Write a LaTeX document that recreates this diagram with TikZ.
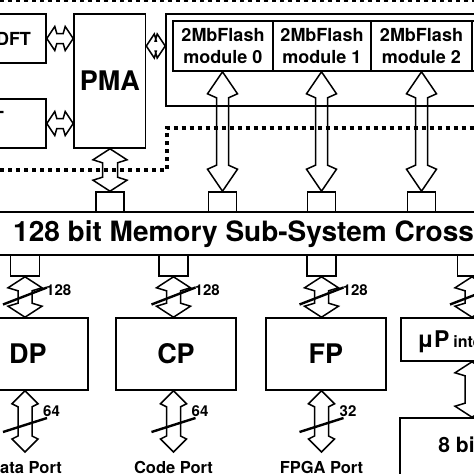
\documentclass[tikz,border=0pt]{standalone}
\usepackage{fontspec}
\setmainfont{TeX Gyre Heros}
\usetikzlibrary{calc}
\tikzset{
  box/.style={draw, line width=1.6pt, inner sep=0pt},
  arr/.style={draw, line width=1.5pt, line join=miter},
  slash/.style={draw, line width=2.4pt},
  dots/.style={draw, line width=4pt, dash pattern=on 4pt off 4pt},
  big/.style={font=\fontsize{27}{30}\selectfont\bfseries},
  mid/.style={font=\fontsize{18}{22}\selectfont\bfseries, align=center},
  lab/.style={font=\fontsize{15}{16}\selectfont\bfseries, inner sep=0pt},
  port/.style={font=\fontsize{16.5}{18}\selectfont\bfseries, inner sep=0pt},
}
\newcommand\dbv[6]{%
  \draw[arr] (#1) -- ++(#3,#5) -- ++({#4-#3},#6) -- ($(#2)+(#4,{-#5-#6})$) -- ++({#3-#4},#6) -- (#2)
    -- ++(-#3,-#5) -- ++({#3-#4},-#6) -- ($(#1)+(-#4,{#5+#6})$) -- ++({#4-#3},-#6) -- cycle;}
\newcommand\dbh[6]{%
  \draw[arr] (#1) -- ++(#5,-#3) -- ++(#6,{#3-#4}) -- ($(#2)+({-#5-#6},-#4)$) -- ++(#6,{#4-#3}) -- (#2)
    -- ++(-#5,#3) -- ++(-#6,{#4-#3}) -- ($(#1)+({#5+#6},#4)$) -- ++(-#6,{#3-#4}) -- cycle;}
\newcommand\slashat[1]{\draw[slash] ($(#1)+(-22,8.5)$) -- ($(#1)+(22,-8.5)$);}
\begin{document}
\begin{tikzpicture}[x=1pt,y=-1pt]
\useasboundingbox (0,0) rectangle (474,474);
\clip (0,0) rectangle (474,474);
% left boxes and PMA
\node[box, minimum width=65pt, minimum height=49pt] (dft) at (13.5,38.5) {};
\node[big, font=\fontsize{18}{20}\selectfont\bfseries] (dftt) at (dft) {DFT};
\node[box, minimum width=65pt, minimum height=49pt] (lb2) at (13.5,123.5) {};
\node[font=\fontsize{18}{20}\selectfont\bfseries, inner sep=0pt, anchor=base east] (lb2t) at (4,124) {T};
\node[box, big, minimum width=71.5pt, minimum height=134pt] (pma) at (109.75,81) {PMA};
% flash
\node[box, minimum width=434pt, minimum height=92pt] (flash) at (383,60) {};
\node[box, mid, minimum width=100pt, minimum height=50pt] (m0) at (223,46) {2MbFlash\\module 0};
\node[box, mid, minimum width=98pt, minimum height=50pt] (m1) at (322,46) {2MbFlash\\module 1};
\node[box, mid, minimum width=101pt, minimum height=50pt] (m2) at (421.5,46) {2MbFlash\\module 2};
\node[box, minimum width=98pt, minimum height=50pt] (m3) at (521,46) {};
% crossbar
\node[box, minimum width=620pt, minimum height=43pt] (xbar) at (290,233.5) {};
\node[font=\fontsize{28}{30}\selectfont\bfseries, inner sep=0pt, anchor=west] (xbart) at (13,234) {128 bit Memory Sub-System Crossbar};
% small boxes
\foreach \n/\x in {pmab/110, f0b/222.5, f1b/321.5, f2b/421.5}
  \node[box, minimum width=28pt, minimum height=20pt] (\n) at (\x,202) {};
\foreach \n/\x in {dpb/25, cpb/173.5, fpb/321.5, upb/472}
  \node[box, minimum width=29pt, minimum height=21pt] (\n) at (\x,265.5) {};
% blocks
\node[box, big, minimum width=120pt, minimum height=72pt] (dp) at (28,354) {DP};
\node[box, big, minimum width=120pt, minimum height=72pt] (cp) at (176,354) {CP};
\node[box, big, minimum width=120pt, minimum height=72pt] (fp) at (326,354) {FP};
\node[box, minimum width=120pt, minimum height=43pt, anchor=west] (up) at (400,339.5) {};
\node[inner sep=0pt, anchor=base west] (upt) at (417,347)
  {\fontsize{23}{24}\selectfont\bfseries μP\hspace{4pt}\fontsize{16}{18}\selectfont interface};
\node[box, minimum width=120pt, minimum height=102pt] (eb) at (460,469) {};
\node[font=\fontsize{21}{24}\selectfont\bfseries, inner sep=0pt] (ebt) at (460,445) {8 bit};
% horizontal arrows
\coordinate (a1) at (pma.west |- dft.east);
\dbh{dft.east}{a1}{12}{5}{8}{2}
\coordinate (a2) at (pma.west |- lb2.east);
\dbh{lb2.east}{a2}{12}{5}{8}{2}
\coordinate (a3) at (pma.east |- m0.west);
\coordinate (a4) at (flash.west |- m0.west);
\dbh{a3}{a4}{12}{5}{8}{2}
% vertical arrows up
\coordinate (b1) at (pmab.north |- pma.south);
\dbv{b1}{pmab.north}{17}{7.5}{11}{3}
\foreach \m/\b in {m0/f0b, m1/f1b, m2/f2b}{
  \coordinate (bt) at (\b.north |- \m.south);
  \dbv{bt}{\b.north}{15}{6}{22}{4}
}
% vertical arrows down
\foreach \s/\t/\w in {dpb/dp/128, cpb/cp/128, fpb/fp/128, upb/up/}{
  \coordinate (ct) at (\s.south |- \t.north);
  \dbv{\s.south}{ct}{17}{7}{11}{3}
  \coordinate (cm) at (\s.south |- 0,296);
  \slashat{cm}
  \node[lab, anchor=west] (l\s) at ($(\s.south |- 0,290)+(21,0)$) {\w};
}
\coordinate (e1) at (upb.south |- up.south);
\coordinate (e2) at (upb.south |- eb.north);
\dbv{e1}{e2}{17}{7}{11}{3}
% ports
\foreach \s/\t/\w/\p in {dpb/dp/64/Data Port, cpb/cp/64/Code Port, fpb/fp/32/FPGA Port}{
  \coordinate (pt) at (\s.south |- \t.south);
  \coordinate (pb) at (\s.south |- 0,452);
  \dbv{pt}{pb}{13}{7}{13}{3}
  \coordinate (pm) at (\s.south |- 0,425);
  \draw[slash] ($(pm)+(-22,7)$) -- ($(pm)+(22,-7)$);
  \node[lab, anchor=west] (q\s) at ($(\s.south |- 0,411.5)+(18,0)$) {\w};
  \node[port] (r\s) at ($(\s.south |- 0,467.5)$) {\p};
}
% dotted boundaries
\draw[dots] (0,170) -- (167,170) -- (167,127.5) -- (474,127.5);
\draw[dots] (0,0) -- (474,0);
\end{tikzpicture}
\end{document}
